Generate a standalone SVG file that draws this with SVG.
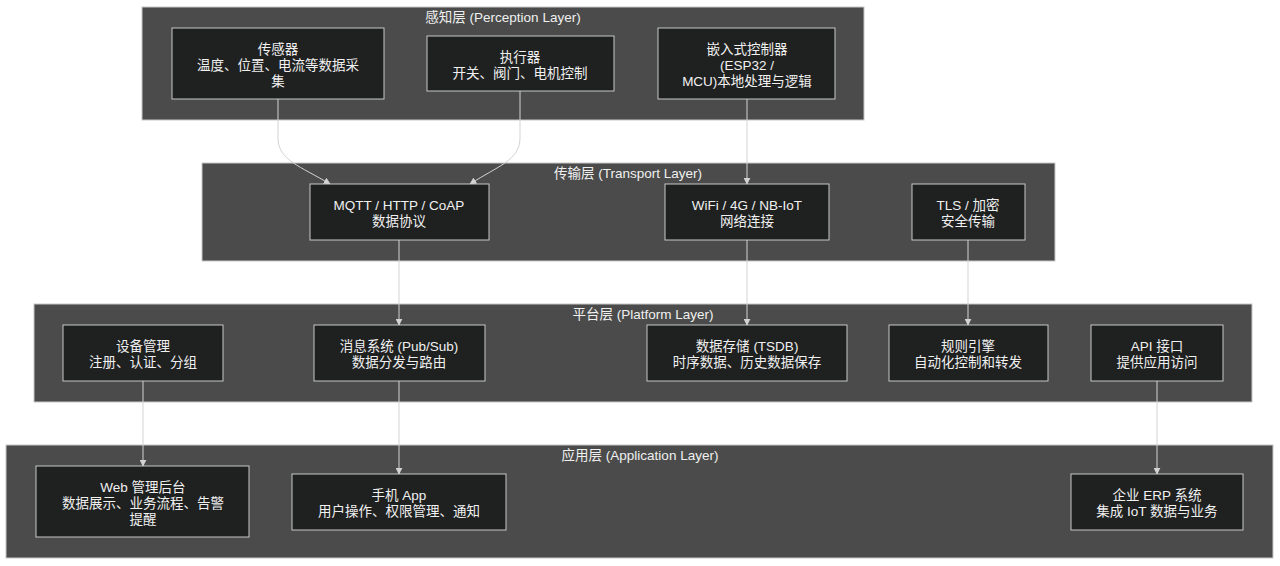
<svg xmlns="http://www.w3.org/2000/svg" width="1280" height="566" viewBox="0 0 1280 566">
<style>
.layer{fill:#4a4b4a;stroke:#c8c8c8;stroke-width:1}
.node{fill:#1f2020;stroke:#c8c8c8;stroke-width:1}
text{font-family:"Liberation Sans","Noto Sans CJK SC",sans-serif;font-size:13.5px;fill:#f0f0f0;text-anchor:middle;dominant-baseline:central}
.edge{fill:none;stroke:#d3d3d3;stroke-width:1;marker-end:url(#arr)}
</style>
<defs>
<marker id="arr" viewBox="0 0 10 10" refX="9" refY="5" markerWidth="7" markerHeight="7" orient="auto" markerUnits="userSpaceOnUse">
<path d="M0,0 L10,5 L0,10 z" fill="#d3d3d3"/>
</marker>
</defs>
<rect width="1280" height="566" fill="#ffffff"/>
<g id="layer-perception"><rect class="layer" x="142" y="7" width="722" height="113"/><text x="503" y="17">感知层 (Perception Layer)</text></g>
<g id="layer-transport"><rect class="layer" x="202" y="163" width="853" height="98"/><text x="628" y="173">传输层 (Transport Layer)</text></g>
<g id="layer-platform"><rect class="layer" x="34" y="304" width="1218" height="98"/><text x="643" y="314">平台层 (Platform Layer)</text></g>
<g id="layer-application"><rect class="layer" x="6" y="445" width="1267" height="113"/><text x="640" y="455">应用层 (Application Layer)</text></g>

<g id="connectors">
<path class="edge" d="M278,99 V138 C278,160 300,166 330,184"/>
<path class="edge" d="M520,91 V138 C520,160 498,166 470,184"/>
<path class="edge" d="M747,99 V184"/>
<path class="edge" d="M399,240 V325"/>
<path class="edge" d="M747,240 V325"/>
<path class="edge" d="M968,240 V325"/>
<path class="edge" d="M143,381 V466"/>
<path class="edge" d="M399,381 V474"/>
<path class="edge" d="M1157,381 V474"/>
</g>

<g id="n-sensor"><rect class="node" x="172" y="28" width="212" height="71"/><text x="278" y="49">传感器</text><text x="278" y="65">温度、位置、电流等数据采</text><text x="278" y="81">集</text></g>
<g id="n-actuator"><rect class="node" x="427" y="36" width="187" height="55"/><text x="520" y="57">执行器</text><text x="520" y="73">开关、阀门、电机控制</text></g>
<g id="n-mcu"><rect class="node" x="658" y="28" width="177" height="71"/><text x="747" y="49">嵌入式控制器</text><text x="747" y="65">(ESP32 /</text><text x="747" y="81">MCU)本地处理与逻辑</text></g>

<g id="n-mqtt"><rect class="node" x="310" y="184" width="179" height="56"/><text x="399" y="205">MQTT / HTTP / CoAP</text><text x="399" y="221">数据协议</text></g>
<g id="n-wifi"><rect class="node" x="665" y="184" width="164" height="56"/><text x="747" y="205">WiFi / 4G / NB-IoT</text><text x="747" y="221">网络连接</text></g>
<g id="n-tls"><rect class="node" x="912" y="184" width="113" height="56"/><text x="968" y="205">TLS / 加密</text><text x="968" y="221">安全传输</text></g>

<g id="n-device"><rect class="node" x="63" y="325" width="160" height="56"/><text x="143" y="346">设备管理</text><text x="143" y="362">注册、认证、分组</text></g>
<g id="n-msg"><rect class="node" x="314" y="325" width="171" height="56"/><text x="399" y="346">消息系统 (Pub/Sub)</text><text x="399" y="362">数据分发与路由</text></g>
<g id="n-storage"><rect class="node" x="647" y="325" width="200" height="56"/><text x="747" y="346">数据存储 (TSDB)</text><text x="747" y="362">时序数据、历史数据保存</text></g>
<g id="n-rule"><rect class="node" x="889" y="325" width="159" height="56"/><text x="968" y="346">规则引擎</text><text x="968" y="362">自动化控制和转发</text></g>
<g id="n-api"><rect class="node" x="1091" y="325" width="132" height="56"/><text x="1157" y="346">API 接口</text><text x="1157" y="362">提供应用访问</text></g>

<g id="n-web"><rect class="node" x="36" y="466" width="213" height="71"/><text x="143" y="487">Web 管理后台</text><text x="143" y="503">数据展示、业务流程、告警</text><text x="143" y="519">提醒</text></g>
<g id="n-app"><rect class="node" x="292" y="474" width="214" height="56"/><text x="399" y="495">手机 App</text><text x="399" y="511">用户操作、权限管理、通知</text></g>
<g id="n-erp"><rect class="node" x="1071" y="474" width="172" height="56"/><text x="1157" y="495">企业 ERP 系统</text><text x="1157" y="511">集成 IoT 数据与业务</text></g>
</svg>
